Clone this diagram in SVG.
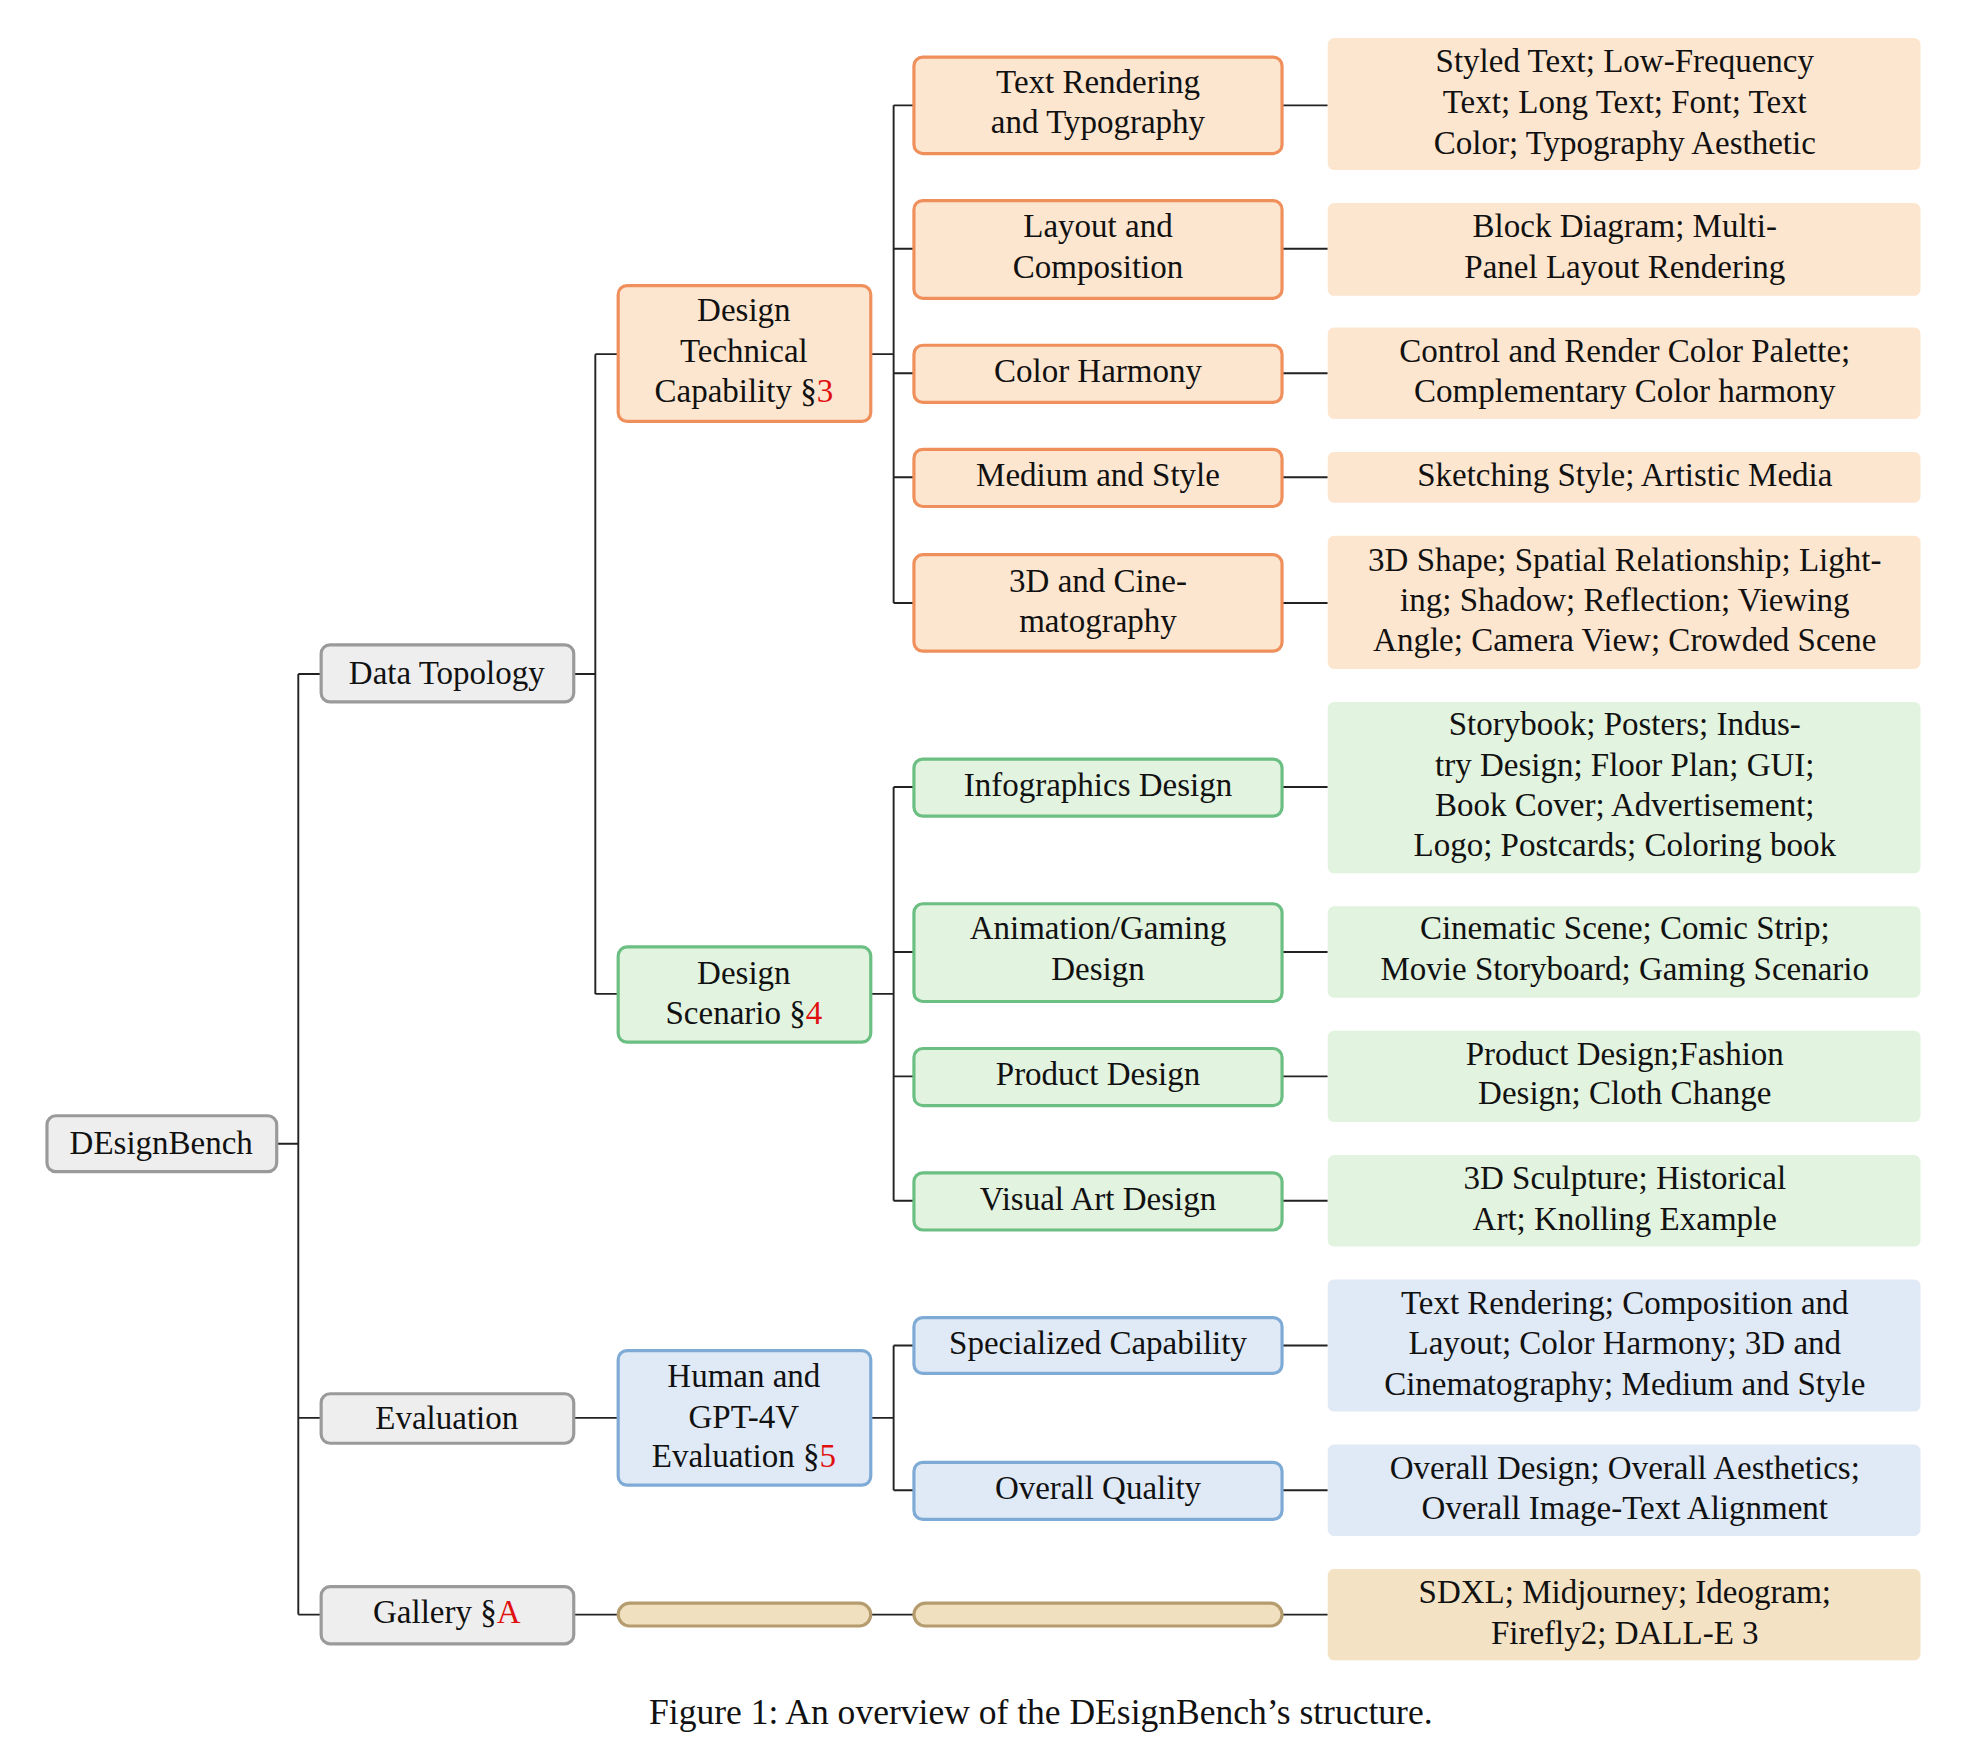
<svg xmlns="http://www.w3.org/2000/svg" width="1970" height="1747" viewBox="0 0 1970 1747">
<style>
text{font-family:"Liberation Serif","Times New Roman",serif;font-size:26px;text-anchor:middle;fill:#111}
.g{fill:#eeeeee;stroke:#9a9a9a;stroke-width:2.5}
.o{fill:#fde6cf;stroke:#ef8f5c;stroke-width:2.5}
.gr{fill:#e2f3df;stroke:#6bbf82;stroke-width:2.5}
.b{fill:#e0eaf6;stroke:#7eaad6;stroke-width:2.5}
.t{fill:#f1e0bf;stroke:#b59c6e;stroke-width:2.5}
.lo{fill:#fde6cf}.lg{fill:#e2f3df}.lb{fill:#e0eaf6}.lt{fill:#f4e2c4}
.r{fill:#e01010}
#conn path{fill:none;stroke:#222;stroke-width:1.5}
</style>
<rect width="1970" height="1747" fill="#fff"/>
<g transform="scale(1.26935)">
<g id="conn">
<path d="M218 901H235M235 531V1272M235 531H253M235 1117H253M235 1272H253"/>
<path d="M452 531H469M469 279V783M469 279H487M469 783H487"/>
<path d="M686 279H704M704 83V475M704 83H720M704 196H720M704 294H720M704 376H720M704 475H720"/>
<path d="M686 783H704M704 620V946M704 620H720M704 750H720M704 848H720M704 946H720"/>
<path d="M452 1117H487M686 1117H704M704 1060V1174M704 1060H720M704 1174H720"/>
<path d="M452 1272H487M686 1272H720M1010 1272H1046"/>
<path d="M1010 83H1046M1010 196H1046M1010 294H1046M1010 376H1046M1010 475H1046M1010 620H1046M1010 750H1046M1010 848H1046M1010 946H1046M1010 1060H1046M1010 1174H1046"/>
</g>
<g id="root"><rect class="g" x="37" y="879" width="181" height="44" rx="7"/><text x="127" y="909">DEsignBench</text></g>
<g id="dt"><rect class="g" x="253" y="508" width="199" height="45" rx="7"/><text x="352" y="539">Data Topology</text></g>
<g id="ev"><rect class="g" x="253" y="1098" width="199" height="39" rx="7"/><text x="352" y="1126">Evaluation</text></g>
<g id="gal"><rect class="g" x="253" y="1250" width="199" height="45" rx="7"/><text x="352" y="1279">Gallery §<tspan class="r">A</tspan></text></g>
<g id="dtc"><rect class="o" x="487" y="225" width="199" height="107" rx="7"/><text x="586" y="253">Design</text><text x="586" y="285">Technical</text><text x="586" y="317">Capability §<tspan class="r">3</tspan></text></g>
<g id="ds"><rect class="gr" x="487" y="746" width="199" height="75" rx="7"/><text x="586" y="775">Design</text><text x="586" y="807">Scenario §<tspan class="r">4</tspan></text></g>
<g id="hg"><rect class="b" x="487" y="1064" width="199" height="106" rx="7"/><text x="586" y="1093">Human and</text><text x="586" y="1125">GPT-4V</text><text x="586" y="1156">Evaluation §<tspan class="r">5</tspan></text></g>
<g id="gbar1"><rect class="t" x="487" y="1263" width="199" height="18" rx="9"/></g>
<g id="gbar2"><rect class="t" x="720" y="1263" width="290" height="18" rx="9"/></g>
<g id="c1"><rect class="o" x="720" y="45" width="290" height="76" rx="7"/><text x="865" y="73">Text Rendering</text><text x="865" y="105">and Typography</text></g>
<g id="c2"><rect class="o" x="720" y="158" width="290" height="77" rx="7"/><text x="865" y="187">Layout and</text><text x="865" y="219">Composition</text></g>
<g id="c3"><rect class="o" x="720" y="272" width="290" height="45" rx="7"/><text x="865" y="301">Color Harmony</text></g>
<g id="c4"><rect class="o" x="720" y="354" width="290" height="45" rx="7"/><text x="865" y="383">Medium and Style</text></g>
<g id="c5"><rect class="o" x="720" y="437" width="290" height="76" rx="7"/><text x="865" y="466">3D and Cine-</text><text x="865" y="498">matography</text></g>
<g id="s1"><rect class="gr" x="720" y="598" width="290" height="45" rx="7"/><text x="865" y="627">Infographics Design</text></g>
<g id="s2"><rect class="gr" x="720" y="712" width="290" height="77" rx="7"/><text x="865" y="740">Animation/Gaming</text><text x="865" y="772">Design</text></g>
<g id="s3"><rect class="gr" x="720" y="826" width="290" height="45" rx="7"/><text x="865" y="855">Product Design</text></g>
<g id="s4"><rect class="gr" x="720" y="924" width="290" height="45" rx="7"/><text x="865" y="953">Visual Art Design</text></g>
<g id="e1"><rect class="b" x="720" y="1038" width="290" height="44" rx="7"/><text x="865" y="1067">Specialized Capability</text></g>
<g id="e2"><rect class="b" x="720" y="1152" width="290" height="45" rx="7"/><text x="865" y="1181">Overall Quality</text></g>
<g id="l1"><rect class="lo" x="1046" y="30" width="467" height="104" rx="5"/><text x="1280" y="57">Styled Text; Low-Frequency</text><text x="1280" y="89">Text; Long Text; Font; Text</text><text x="1280" y="121">Color; Typography Aesthetic</text></g>
<g id="l2"><rect class="lo" x="1046" y="160" width="467" height="73" rx="5"/><text x="1280" y="187">Block Diagram; Multi-</text><text x="1280" y="219">Panel Layout Rendering</text></g>
<g id="l3"><rect class="lo" x="1046" y="258" width="467" height="72" rx="5"/><text x="1280" y="285">Control and Render Color Palette;</text><text x="1280" y="317">Complementary Color harmony</text></g>
<g id="l4"><rect class="lo" x="1046" y="356" width="467" height="40" rx="5"/><text x="1280" y="383">Sketching Style; Artistic Media</text></g>
<g id="l5"><rect class="lo" x="1046" y="422" width="467" height="105" rx="5"/><text x="1280" y="450">3D Shape; Spatial Relationship; Light-</text><text x="1280" y="481">ing; Shadow; Reflection; Viewing</text><text x="1280" y="513">Angle; Camera View; Crowded Scene</text></g>
<g id="l6"><rect class="lg" x="1046" y="553" width="467" height="135" rx="5"/><text x="1280" y="579">Storybook; Posters; Indus-</text><text x="1280" y="611">try Design; Floor Plan; GUI;</text><text x="1280" y="643">Book Cover; Advertisement;</text><text x="1280" y="674">Logo; Postcards; Coloring book</text></g>
<g id="l7"><rect class="lg" x="1046" y="714" width="467" height="72" rx="5"/><text x="1280" y="740">Cinematic Scene; Comic Strip;</text><text x="1280" y="772">Movie Storyboard; Gaming Scenario</text></g>
<g id="l8"><rect class="lg" x="1046" y="812" width="467" height="72" rx="5"/><text x="1280" y="839">Product Design;Fashion</text><text x="1280" y="870">Design; Cloth Change</text></g>
<g id="l9"><rect class="lg" x="1046" y="910" width="467" height="72" rx="5"/><text x="1280" y="937">3D Sculpture; Historical</text><text x="1280" y="969">Art; Knolling Example</text></g>
<g id="l10"><rect class="lb" x="1046" y="1008" width="467" height="104" rx="5"/><text x="1280" y="1035">Text Rendering; Composition and</text><text x="1280" y="1067">Layout; Color Harmony; 3D and</text><text x="1280" y="1099">Cinematography; Medium and Style</text></g>
<g id="l11"><rect class="lb" x="1046" y="1138" width="467" height="72" rx="5"/><text x="1280" y="1165">Overall Design; Overall Aesthetics;</text><text x="1280" y="1197">Overall Image-Text Alignment</text></g>
<g id="l12"><rect class="lt" x="1046" y="1236" width="467" height="72" rx="5"/><text x="1280" y="1263">SDXL; Midjourney; Ideogram;</text><text x="1280" y="1295">Firefly2; DALL-E 3</text></g>
<text x="820" y="1358" style="font-size:28px">Figure 1: An overview of the DEsignBench’s structure.</text>
</g>
</svg>
